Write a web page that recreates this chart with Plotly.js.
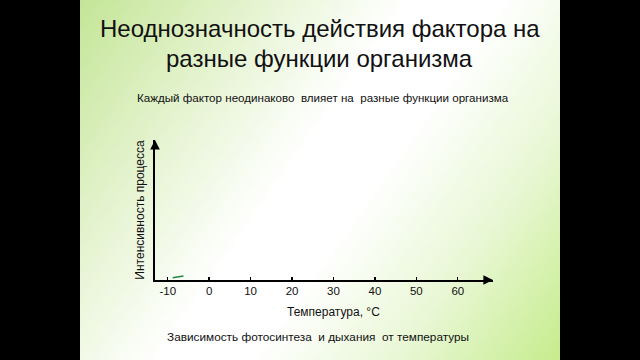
<!DOCTYPE html>
<html>
<head>
<meta charset="utf-8">
<script src="https://cdn.plot.ly/plotly-3.0.1.min.js"></script>
<style>
  html, body { margin:0; padding:0; background:#000; width:640px; height:360px; overflow:hidden; }
  #slide { position:absolute; left:80px; top:0; width:480px; height:360px;
    background: linear-gradient(125deg, #c4e597 0%, #e6f4d2 25%, #ffffff 45%, #ffffff 58%, #e8f7d4 78%, #c6ec8c 100%); }
  #chart { position:absolute; left:0; top:0; width:640px; height:360px; }
</style>
</head>
<body>
<div id="slide"></div>
<div id="chart"></div>
<script>
// ---- data ----
const titleLine1 = "Неоднозначность действия фактора на";
const titleLine2 = "разные функции организма";
const subtitle = "Каждый фактор неодинаково  влияет на  разные функции организма";
const caption = "Зависимость фотосинтеза  и дыхания  от температуры";
const xTitle = "Температура, °С";
const yTitle = "Интенсивность процесса";
const tickVals = [-10, 0, 10, 20, 30, 40, 50, 60];
const tickText = ["-10", "0", "10", "20", "30", "40", "50", "60"];
const photoX = [-8.8, -6.2];
const photoY = [1.6, 2.9];

// ---- layout geometry ----
const W = 640, H = 360;
const L = 155, R = 493, T = 140, B = 280;
const px = x => (x - L) / (R - L);
const py = y => (B - y) / (B - T);
const FONT = "Arial, 'Liberation Sans', sans-serif";

const xRange = [-13.07, 68.5];
const yRange = [0, 100];

const traces = [{
  type: "scatter", mode: "lines",
  x: photoX, y: photoY,
  line: { color: "#1e8a3c", width: 1.6 },
  hoverinfo: "skip", showlegend: false
}];

function txt(text, x, y, size) {
  return { text: text, xref: "paper", yref: "paper", x: px(x), y: py(y),
    xanchor: "center", yanchor: "middle", showarrow: false,
    font: { family: FONT, size: size, color: "#111" } };
}

const layout = {
  width: W, height: H, autosize: false,
  margin: { l: L, r: W - R, t: T, b: H - B, pad: 0 },
  paper_bgcolor: "rgba(0,0,0,0)", plot_bgcolor: "rgba(0,0,0,0)",
  showlegend: false,
  font: { family: FONT, color: "#111" },
  xaxis: {
    range: xRange, showgrid: false, zeroline: false,
    showline: true, linecolor: "#000", linewidth: 1.6,
    tickmode: "array", tickvals: tickVals, ticktext: tickText,
    ticks: "inside", ticklen: 3, tickwidth: 1.4, tickcolor: "#000",
    tickfont: { family: FONT, size: 11.5, color: "#111" },
    ticklabelstandoff: 0, fixedrange: true
  },
  yaxis: {
    range: yRange, showgrid: false, zeroline: false,
    showline: true, linecolor: "#000", linewidth: 1.6,
    showticklabels: false, ticks: "",
    title: { text: yTitle, font: { family: FONT, size: 12, color: "#111" }, standoff: 6 },
    fixedrange: true
  },
  annotations: [
    txt(titleLine1, 319.5, 28, 24),
    txt(titleLine2, 319.5, 58, 24),
    txt(subtitle, 322.5, 97, 11.6),
    txt(xTitle, 333.5, 312, 12),
    txt(caption, 318, 337, 11.8),
    // arrowheads at axis ends
    { xref: "x", yref: "paper", x: xRange[1], y: 0, ax: -10, ay: 0,
      showarrow: true, arrowhead: 2, arrowsize: 1.2, arrowwidth: 1.6, arrowcolor: "#000", text: "" },
    { xref: "paper", yref: "y", x: 0, y: yRange[1], ax: 0, ay: 10,
      showarrow: true, arrowhead: 2, arrowsize: 1.2, arrowwidth: 1.6, arrowcolor: "#000", text: "" }
  ]
};

Plotly.newPlot("chart", traces, layout, { staticPlot: true, displayModeBar: false });
</script>
</body>
</html>
